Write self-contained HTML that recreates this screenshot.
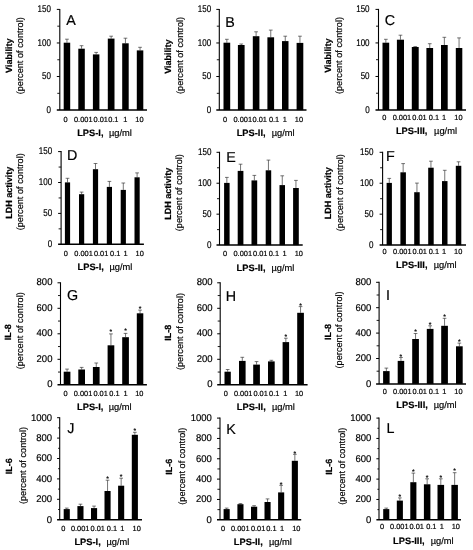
<!DOCTYPE html>
<html lang="en">
<head>
<meta charset="utf-8">
<title>LPS viability, LDH, IL-8 and IL-6 bar charts</title>
<style>
html,body{margin:0;padding:0;background:#fff;}
body{width:473px;height:550px;overflow:hidden;}
svg{display:block;}
svg text{font-family:"Liberation Sans", sans-serif;fill:#000;text-rendering:geometricPrecision;stroke:#000;stroke-width:0.18px;}
</style>
</head>
<body>
<svg width="473" height="550" viewBox="0 0 473 550">
<rect x="0" y="0" width="473" height="550" fill="#fff"/>
<line x1="59.8" y1="8.9" x2="59.8" y2="110.1" stroke="#000" stroke-width="1.1"/>
<line x1="56.8" y1="110.1" x2="147" y2="110.1" stroke="#000" stroke-width="1.5"/>
<text transform="translate(50.9,112.7) scale(0.82,1)" font-size="9.8" text-anchor="end">0</text>
<line x1="57.3" y1="93.32" x2="59.8" y2="93.32" stroke="#000" stroke-width="0.9"/>
<line x1="56.8" y1="76.53" x2="59.8" y2="76.53" stroke="#000" stroke-width="1.0"/>
<text transform="translate(50.9,79.13) scale(0.82,1)" font-size="9.8" text-anchor="end">50</text>
<line x1="57.3" y1="59.75" x2="59.8" y2="59.75" stroke="#000" stroke-width="0.9"/>
<line x1="56.8" y1="42.97" x2="59.8" y2="42.97" stroke="#000" stroke-width="1.0"/>
<text transform="translate(50.9,45.57) scale(0.82,1)" font-size="9.8" text-anchor="end">100</text>
<line x1="57.3" y1="26.18" x2="59.8" y2="26.18" stroke="#000" stroke-width="0.9"/>
<line x1="56.8" y1="9.4" x2="59.8" y2="9.4" stroke="#000" stroke-width="1.0"/>
<text transform="translate(50.9,12) scale(0.82,1)" font-size="9.8" text-anchor="end">150</text>
<line x1="66.95" y1="42.7" x2="66.95" y2="39.2" stroke="#3a3a3a" stroke-width="0.7"/>
<line x1="65.1" y1="39.2" x2="68.8" y2="39.2" stroke="#3a3a3a" stroke-width="0.7"/>
<rect x="63.7" y="42.7" width="6.5" height="67.4" fill="#000"/>
<line x1="81.55" y1="48.7" x2="81.55" y2="45.7" stroke="#3a3a3a" stroke-width="0.7"/>
<line x1="79.7" y1="45.7" x2="83.4" y2="45.7" stroke="#3a3a3a" stroke-width="0.7"/>
<rect x="78.3" y="48.7" width="6.5" height="61.4" fill="#000"/>
<line x1="96.15" y1="54.4" x2="96.15" y2="52.4" stroke="#3a3a3a" stroke-width="0.7"/>
<line x1="94.3" y1="52.4" x2="98" y2="52.4" stroke="#3a3a3a" stroke-width="0.7"/>
<rect x="92.9" y="54.4" width="6.5" height="55.7" fill="#000"/>
<line x1="111.15" y1="38.6" x2="111.15" y2="36.2" stroke="#3a3a3a" stroke-width="0.7"/>
<line x1="109.3" y1="36.2" x2="113" y2="36.2" stroke="#3a3a3a" stroke-width="0.7"/>
<rect x="107.8" y="38.6" width="6.7" height="71.5" fill="#000"/>
<line x1="125.45" y1="43.3" x2="125.45" y2="38.2" stroke="#3a3a3a" stroke-width="0.7"/>
<line x1="123.6" y1="38.2" x2="127.3" y2="38.2" stroke="#3a3a3a" stroke-width="0.7"/>
<rect x="122.2" y="43.3" width="6.5" height="66.8" fill="#000"/>
<line x1="140.05" y1="50.4" x2="140.05" y2="47.3" stroke="#3a3a3a" stroke-width="0.7"/>
<line x1="138.2" y1="47.3" x2="141.9" y2="47.3" stroke="#3a3a3a" stroke-width="0.7"/>
<rect x="136.8" y="50.4" width="6.5" height="59.7" fill="#000"/>
<text x="65.6" y="121.8" font-size="7.4" text-anchor="middle">0</text>
<text x="83.25" y="121.8" font-size="7.4" text-anchor="middle">0.001</text>
<text x="100.8" y="121.8" font-size="7.4" text-anchor="middle">0.01</text>
<text x="113.3" y="121.8" font-size="7.4" text-anchor="middle">0.1</text>
<text x="125.2" y="121.8" font-size="7.4" text-anchor="middle">1</text>
<text x="139.45" y="121.8" font-size="7.4" text-anchor="middle">10</text>
<text x="77.2" y="136" font-size="9.3" font-weight="bold">LPS-I,</text>
<text x="109" y="136" font-size="9.3">µg/ml</text>
<text x="66.2" y="24.9" font-size="14.3" stroke="none">A</text>
<text transform="translate(12,55.75) rotate(-90)" font-size="9.0" font-weight="bold" text-anchor="middle">Viability</text>
<text transform="translate(23.3,55.75) rotate(-90)" font-size="9.2" text-anchor="middle">(percent of control)</text>
<line x1="219.3" y1="8.9" x2="219.3" y2="110.1" stroke="#000" stroke-width="1.1"/>
<line x1="216.3" y1="110.1" x2="306.5" y2="110.1" stroke="#000" stroke-width="1.5"/>
<text transform="translate(211.2,112.7) scale(0.82,1)" font-size="9.8" text-anchor="end">0</text>
<line x1="216.8" y1="93.32" x2="219.3" y2="93.32" stroke="#000" stroke-width="0.9"/>
<line x1="216.3" y1="76.53" x2="219.3" y2="76.53" stroke="#000" stroke-width="1.0"/>
<text transform="translate(211.2,79.13) scale(0.82,1)" font-size="9.8" text-anchor="end">50</text>
<line x1="216.8" y1="59.75" x2="219.3" y2="59.75" stroke="#000" stroke-width="0.9"/>
<line x1="216.3" y1="42.97" x2="219.3" y2="42.97" stroke="#000" stroke-width="1.0"/>
<text transform="translate(211.2,45.57) scale(0.82,1)" font-size="9.8" text-anchor="end">100</text>
<line x1="216.8" y1="26.18" x2="219.3" y2="26.18" stroke="#000" stroke-width="0.9"/>
<line x1="216.3" y1="9.4" x2="219.3" y2="9.4" stroke="#000" stroke-width="1.0"/>
<text transform="translate(211.2,12) scale(0.82,1)" font-size="9.8" text-anchor="end">150</text>
<line x1="226.85" y1="42.7" x2="226.85" y2="39.3" stroke="#3a3a3a" stroke-width="0.7"/>
<line x1="225" y1="39.3" x2="228.7" y2="39.3" stroke="#3a3a3a" stroke-width="0.7"/>
<rect x="223.5" y="42.7" width="6.7" height="67.4" fill="#000"/>
<line x1="241.25" y1="45" x2="241.25" y2="44" stroke="#3a3a3a" stroke-width="0.7"/>
<line x1="239.4" y1="44" x2="243.1" y2="44" stroke="#3a3a3a" stroke-width="0.7"/>
<rect x="237.9" y="45" width="6.7" height="65.1" fill="#000"/>
<line x1="256.1" y1="36.2" x2="256.1" y2="31.8" stroke="#3a3a3a" stroke-width="0.7"/>
<line x1="254.25" y1="31.8" x2="257.95" y2="31.8" stroke="#3a3a3a" stroke-width="0.7"/>
<rect x="252.8" y="36.2" width="6.6" height="73.9" fill="#000"/>
<line x1="270.75" y1="37.3" x2="270.75" y2="30.1" stroke="#3a3a3a" stroke-width="0.7"/>
<line x1="268.9" y1="30.1" x2="272.6" y2="30.1" stroke="#3a3a3a" stroke-width="0.7"/>
<rect x="267.4" y="37.3" width="6.7" height="72.8" fill="#000"/>
<line x1="285.25" y1="41.1" x2="285.25" y2="36.2" stroke="#3a3a3a" stroke-width="0.7"/>
<line x1="283.4" y1="36.2" x2="287.1" y2="36.2" stroke="#3a3a3a" stroke-width="0.7"/>
<rect x="282" y="41.1" width="6.5" height="69" fill="#000"/>
<line x1="299.95" y1="42.9" x2="299.95" y2="36.2" stroke="#3a3a3a" stroke-width="0.7"/>
<line x1="298.1" y1="36.2" x2="301.8" y2="36.2" stroke="#3a3a3a" stroke-width="0.7"/>
<rect x="296.6" y="42.9" width="6.7" height="67.2" fill="#000"/>
<text x="225.1" y="121.8" font-size="7.4" text-anchor="middle">0</text>
<text x="242.75" y="121.8" font-size="7.4" text-anchor="middle">0.001</text>
<text x="259.8" y="121.8" font-size="7.4" text-anchor="middle">0.01</text>
<text x="274.1" y="121.8" font-size="7.4" text-anchor="middle">0.1</text>
<text x="284.7" y="121.8" font-size="7.4" text-anchor="middle">1</text>
<text x="298.95" y="121.8" font-size="7.4" text-anchor="middle">10</text>
<text x="236.7" y="136" font-size="9.3" font-weight="bold">LPS-II,</text>
<text x="271.7" y="136" font-size="9.3">µg/ml</text>
<text x="225.2" y="26.8" font-size="14.3" stroke="none">B</text>
<text transform="translate(171,56.55) rotate(-90)" font-size="9.0" font-weight="bold" text-anchor="middle">Viability</text>
<text transform="translate(182.8,55.45) rotate(-90)" font-size="9.2" text-anchor="middle">(percent of control)</text>
<line x1="378.5" y1="8.9" x2="378.5" y2="110" stroke="#000" stroke-width="1.1"/>
<line x1="375.5" y1="110" x2="466" y2="110" stroke="#000" stroke-width="1.5"/>
<text transform="translate(369.6,112.6) scale(0.82,1)" font-size="9.8" text-anchor="end">0</text>
<line x1="376" y1="93.23" x2="378.5" y2="93.23" stroke="#000" stroke-width="0.9"/>
<line x1="375.5" y1="76.47" x2="378.5" y2="76.47" stroke="#000" stroke-width="1.0"/>
<text transform="translate(369.6,79.07) scale(0.82,1)" font-size="9.8" text-anchor="end">50</text>
<line x1="376" y1="59.7" x2="378.5" y2="59.7" stroke="#000" stroke-width="0.9"/>
<line x1="375.5" y1="42.93" x2="378.5" y2="42.93" stroke="#000" stroke-width="1.0"/>
<text transform="translate(369.6,45.53) scale(0.82,1)" font-size="9.8" text-anchor="end">100</text>
<line x1="376" y1="26.17" x2="378.5" y2="26.17" stroke="#000" stroke-width="0.9"/>
<line x1="375.5" y1="9.4" x2="378.5" y2="9.4" stroke="#000" stroke-width="1.0"/>
<text transform="translate(369.6,12) scale(0.82,1)" font-size="9.8" text-anchor="end">150</text>
<line x1="385.85" y1="42.7" x2="385.85" y2="39.3" stroke="#3a3a3a" stroke-width="0.7"/>
<line x1="384" y1="39.3" x2="387.7" y2="39.3" stroke="#3a3a3a" stroke-width="0.7"/>
<rect x="382.5" y="42.7" width="6.7" height="67.3" fill="#000"/>
<line x1="400.45" y1="39.7" x2="400.45" y2="35.2" stroke="#3a3a3a" stroke-width="0.7"/>
<line x1="398.6" y1="35.2" x2="402.3" y2="35.2" stroke="#3a3a3a" stroke-width="0.7"/>
<rect x="396.9" y="39.7" width="7.1" height="70.3" fill="#000"/>
<line x1="415.25" y1="47" x2="415.25" y2="46.6" stroke="#3a3a3a" stroke-width="0.7"/>
<line x1="413.4" y1="46.6" x2="417.1" y2="46.6" stroke="#3a3a3a" stroke-width="0.7"/>
<rect x="411.8" y="47" width="6.9" height="63" fill="#000"/>
<line x1="429.75" y1="48" x2="429.75" y2="43.7" stroke="#3a3a3a" stroke-width="0.7"/>
<line x1="427.9" y1="43.7" x2="431.6" y2="43.7" stroke="#3a3a3a" stroke-width="0.7"/>
<rect x="426.4" y="48" width="6.7" height="62" fill="#000"/>
<line x1="444.35" y1="45" x2="444.35" y2="37.3" stroke="#3a3a3a" stroke-width="0.7"/>
<line x1="442.5" y1="37.3" x2="446.2" y2="37.3" stroke="#3a3a3a" stroke-width="0.7"/>
<rect x="441" y="45" width="6.7" height="65" fill="#000"/>
<line x1="459.05" y1="48" x2="459.05" y2="37.9" stroke="#3a3a3a" stroke-width="0.7"/>
<line x1="457.2" y1="37.9" x2="460.9" y2="37.9" stroke="#3a3a3a" stroke-width="0.7"/>
<rect x="455.8" y="48" width="6.5" height="62" fill="#000"/>
<text x="384.3" y="120.3" font-size="7.4" text-anchor="middle">0</text>
<text x="401.95" y="120.3" font-size="7.4" text-anchor="middle">0.001</text>
<text x="419.5" y="120.3" font-size="7.4" text-anchor="middle">0.01</text>
<text x="434" y="120.3" font-size="7.4" text-anchor="middle">0.1</text>
<text x="444.1" y="120.3" font-size="7.4" text-anchor="middle">1</text>
<text x="458.4" y="120.3" font-size="7.4" text-anchor="middle">10</text>
<text x="395.9" y="134.2" font-size="9.3" font-weight="bold">LPS-III,</text>
<text x="434.1" y="134.2" font-size="9.3">µg/ml</text>
<text x="384.8" y="25.3" font-size="14.3" stroke="none">C</text>
<text transform="translate(330.7,55.7) rotate(-90)" font-size="9.0" font-weight="bold" text-anchor="middle">Viability</text>
<text transform="translate(342.4,55.5) rotate(-90)" font-size="9.2" text-anchor="middle">(percent of control)</text>
<line x1="61.1" y1="151.1" x2="61.1" y2="244.3" stroke="#000" stroke-width="1.1"/>
<line x1="58.1" y1="244.3" x2="143.9" y2="244.3" stroke="#000" stroke-width="1.5"/>
<text transform="translate(52.2,246.9) scale(0.82,1)" font-size="9.8" text-anchor="end">0</text>
<line x1="58.6" y1="228.85" x2="61.1" y2="228.85" stroke="#000" stroke-width="0.9"/>
<line x1="58.1" y1="213.4" x2="61.1" y2="213.4" stroke="#000" stroke-width="1.0"/>
<text transform="translate(52.2,216) scale(0.82,1)" font-size="9.8" text-anchor="end">50</text>
<line x1="58.6" y1="197.95" x2="61.1" y2="197.95" stroke="#000" stroke-width="0.9"/>
<line x1="58.1" y1="182.5" x2="61.1" y2="182.5" stroke="#000" stroke-width="1.0"/>
<text transform="translate(52.2,185.1) scale(0.82,1)" font-size="9.8" text-anchor="end">100</text>
<line x1="58.6" y1="167.05" x2="61.1" y2="167.05" stroke="#000" stroke-width="0.9"/>
<line x1="58.1" y1="151.6" x2="61.1" y2="151.6" stroke="#000" stroke-width="1.0"/>
<text transform="translate(52.2,154.2) scale(0.82,1)" font-size="9.8" text-anchor="end">150</text>
<line x1="67.5" y1="182.4" x2="67.5" y2="178.3" stroke="#3a3a3a" stroke-width="0.7"/>
<line x1="65.65" y1="178.3" x2="69.35" y2="178.3" stroke="#3a3a3a" stroke-width="0.7"/>
<rect x="64.9" y="182.4" width="5.2" height="61.9" fill="#000"/>
<line x1="81.6" y1="194.2" x2="81.6" y2="192.1" stroke="#3a3a3a" stroke-width="0.7"/>
<line x1="79.75" y1="192.1" x2="83.45" y2="192.1" stroke="#3a3a3a" stroke-width="0.7"/>
<rect x="79" y="194.2" width="5.2" height="50.1" fill="#000"/>
<line x1="95.5" y1="169.2" x2="95.5" y2="163.5" stroke="#3a3a3a" stroke-width="0.7"/>
<line x1="93.65" y1="163.5" x2="97.35" y2="163.5" stroke="#3a3a3a" stroke-width="0.7"/>
<rect x="92.9" y="169.2" width="5.2" height="75.1" fill="#000"/>
<line x1="109.4" y1="186.9" x2="109.4" y2="181.4" stroke="#3a3a3a" stroke-width="0.7"/>
<line x1="107.55" y1="181.4" x2="111.25" y2="181.4" stroke="#3a3a3a" stroke-width="0.7"/>
<rect x="106.8" y="186.9" width="5.2" height="57.4" fill="#000"/>
<line x1="123.3" y1="189.9" x2="123.3" y2="183" stroke="#3a3a3a" stroke-width="0.7"/>
<line x1="121.45" y1="183" x2="125.15" y2="183" stroke="#3a3a3a" stroke-width="0.7"/>
<rect x="120.7" y="189.9" width="5.2" height="54.4" fill="#000"/>
<line x1="137.1" y1="177.3" x2="137.1" y2="172.9" stroke="#3a3a3a" stroke-width="0.7"/>
<line x1="135.25" y1="172.9" x2="138.95" y2="172.9" stroke="#3a3a3a" stroke-width="0.7"/>
<rect x="134.5" y="177.3" width="5.2" height="67" fill="#000"/>
<text x="65.9" y="256" font-size="7.4" text-anchor="middle">0</text>
<text x="83.6" y="256" font-size="7.4" text-anchor="middle">0.001</text>
<text x="101.1" y="256" font-size="7.4" text-anchor="middle">0.01</text>
<text x="115.2" y="256" font-size="7.4" text-anchor="middle">0.1</text>
<text x="125.6" y="256" font-size="7.4" text-anchor="middle">1</text>
<text x="139.7" y="256" font-size="7.4" text-anchor="middle">10</text>
<text x="77.5" y="270.2" font-size="9.3" font-weight="bold">LPS-I,</text>
<text x="109.4" y="270.2" font-size="9.3">µg/ml</text>
<text x="67" y="160.1" font-size="14.3" stroke="none">D</text>
<text transform="translate(12,192.85) rotate(-90)" font-size="9.0" font-weight="bold" text-anchor="middle">LDH activity</text>
<text transform="translate(23.1,191.75) rotate(-90)" font-size="9.2" text-anchor="middle">(percent of control)</text>
<line x1="219.5" y1="151.8" x2="219.5" y2="245.1" stroke="#000" stroke-width="1.1"/>
<line x1="216.5" y1="245.1" x2="302.7" y2="245.1" stroke="#000" stroke-width="1.5"/>
<text transform="translate(211.5,247.7) scale(0.82,1)" font-size="9.8" text-anchor="end">0</text>
<line x1="217" y1="229.63" x2="219.5" y2="229.63" stroke="#000" stroke-width="0.9"/>
<line x1="216.5" y1="214.17" x2="219.5" y2="214.17" stroke="#000" stroke-width="1.0"/>
<text transform="translate(211.5,216.77) scale(0.82,1)" font-size="9.8" text-anchor="end">50</text>
<line x1="217" y1="198.7" x2="219.5" y2="198.7" stroke="#000" stroke-width="0.9"/>
<line x1="216.5" y1="183.23" x2="219.5" y2="183.23" stroke="#000" stroke-width="1.0"/>
<text transform="translate(211.5,185.83) scale(0.82,1)" font-size="9.8" text-anchor="end">100</text>
<line x1="217" y1="167.77" x2="219.5" y2="167.77" stroke="#000" stroke-width="0.9"/>
<line x1="216.5" y1="152.3" x2="219.5" y2="152.3" stroke="#000" stroke-width="1.0"/>
<text transform="translate(211.5,154.9) scale(0.82,1)" font-size="9.8" text-anchor="end">150</text>
<line x1="226.85" y1="182.9" x2="226.85" y2="177.4" stroke="#3a3a3a" stroke-width="0.7"/>
<line x1="225" y1="177.4" x2="228.7" y2="177.4" stroke="#3a3a3a" stroke-width="0.7"/>
<rect x="224.1" y="182.9" width="5.5" height="62.2" fill="#000"/>
<line x1="240.55" y1="170.9" x2="240.55" y2="164.2" stroke="#3a3a3a" stroke-width="0.7"/>
<line x1="238.7" y1="164.2" x2="242.4" y2="164.2" stroke="#3a3a3a" stroke-width="0.7"/>
<rect x="237.7" y="170.9" width="5.7" height="74.2" fill="#000"/>
<line x1="254.35" y1="180.4" x2="254.35" y2="175.4" stroke="#3a3a3a" stroke-width="0.7"/>
<line x1="252.5" y1="175.4" x2="256.2" y2="175.4" stroke="#3a3a3a" stroke-width="0.7"/>
<rect x="251.5" y="180.4" width="5.7" height="64.7" fill="#000"/>
<line x1="268.45" y1="170.3" x2="268.45" y2="160.1" stroke="#3a3a3a" stroke-width="0.7"/>
<line x1="266.6" y1="160.1" x2="270.3" y2="160.1" stroke="#3a3a3a" stroke-width="0.7"/>
<rect x="265.7" y="170.3" width="5.5" height="74.8" fill="#000"/>
<line x1="282.25" y1="185.1" x2="282.25" y2="175.8" stroke="#3a3a3a" stroke-width="0.7"/>
<line x1="280.4" y1="175.8" x2="284.1" y2="175.8" stroke="#3a3a3a" stroke-width="0.7"/>
<rect x="279.5" y="185.1" width="5.5" height="60" fill="#000"/>
<line x1="295.95" y1="188" x2="295.95" y2="180.4" stroke="#3a3a3a" stroke-width="0.7"/>
<line x1="294.1" y1="180.4" x2="297.8" y2="180.4" stroke="#3a3a3a" stroke-width="0.7"/>
<rect x="293.1" y="188" width="5.7" height="57.1" fill="#000"/>
<text x="225" y="256.4" font-size="7.4" text-anchor="middle">0</text>
<text x="242.75" y="256.4" font-size="7.4" text-anchor="middle">0.001</text>
<text x="260.3" y="256.4" font-size="7.4" text-anchor="middle">0.01</text>
<text x="273.9" y="256.4" font-size="7.4" text-anchor="middle">0.1</text>
<text x="284.6" y="256.4" font-size="7.4" text-anchor="middle">1</text>
<text x="298.85" y="256.4" font-size="7.4" text-anchor="middle">10</text>
<text x="236.6" y="271.1" font-size="9.3" font-weight="bold">LPS-II,</text>
<text x="271.5" y="271.1" font-size="9.3">µg/ml</text>
<text x="226.2" y="162.4" font-size="14.3" stroke="none">E</text>
<text transform="translate(171.4,193.7) rotate(-90)" font-size="9.0" font-weight="bold" text-anchor="middle">LDH activity</text>
<text transform="translate(182.3,192.7) rotate(-90)" font-size="9.2" text-anchor="middle">(percent of control)</text>
<line x1="382.6" y1="151.8" x2="382.6" y2="245.1" stroke="#000" stroke-width="1.1"/>
<line x1="379.6" y1="245.1" x2="466" y2="245.1" stroke="#000" stroke-width="1.5"/>
<text transform="translate(373.5,247.7) scale(0.82,1)" font-size="9.8" text-anchor="end">0</text>
<line x1="380.1" y1="229.63" x2="382.6" y2="229.63" stroke="#000" stroke-width="0.9"/>
<line x1="379.6" y1="214.17" x2="382.6" y2="214.17" stroke="#000" stroke-width="1.0"/>
<text transform="translate(373.5,216.77) scale(0.82,1)" font-size="9.8" text-anchor="end">50</text>
<line x1="380.1" y1="198.7" x2="382.6" y2="198.7" stroke="#000" stroke-width="0.9"/>
<line x1="379.6" y1="183.23" x2="382.6" y2="183.23" stroke="#000" stroke-width="1.0"/>
<text transform="translate(373.5,185.83) scale(0.82,1)" font-size="9.8" text-anchor="end">100</text>
<line x1="380.1" y1="167.77" x2="382.6" y2="167.77" stroke="#000" stroke-width="0.9"/>
<line x1="379.6" y1="152.3" x2="382.6" y2="152.3" stroke="#000" stroke-width="1.0"/>
<text transform="translate(373.5,154.9) scale(0.82,1)" font-size="9.8" text-anchor="end">150</text>
<line x1="389.25" y1="182.9" x2="389.25" y2="178.4" stroke="#3a3a3a" stroke-width="0.7"/>
<line x1="387.4" y1="178.4" x2="391.1" y2="178.4" stroke="#3a3a3a" stroke-width="0.7"/>
<rect x="386.6" y="182.9" width="5.3" height="62.2" fill="#000"/>
<line x1="403.15" y1="172.3" x2="403.15" y2="163.6" stroke="#3a3a3a" stroke-width="0.7"/>
<line x1="401.3" y1="163.6" x2="405" y2="163.6" stroke="#3a3a3a" stroke-width="0.7"/>
<rect x="400.4" y="172.3" width="5.5" height="72.8" fill="#000"/>
<line x1="416.95" y1="192.2" x2="416.95" y2="183.1" stroke="#3a3a3a" stroke-width="0.7"/>
<line x1="415.1" y1="183.1" x2="418.8" y2="183.1" stroke="#3a3a3a" stroke-width="0.7"/>
<rect x="414.2" y="192.2" width="5.5" height="52.9" fill="#000"/>
<line x1="430.95" y1="167.7" x2="430.95" y2="161.2" stroke="#3a3a3a" stroke-width="0.7"/>
<line x1="429.1" y1="161.2" x2="432.8" y2="161.2" stroke="#3a3a3a" stroke-width="0.7"/>
<rect x="428.2" y="167.7" width="5.5" height="77.4" fill="#000"/>
<line x1="444.75" y1="181.1" x2="444.75" y2="170.3" stroke="#3a3a3a" stroke-width="0.7"/>
<line x1="442.9" y1="170.3" x2="446.6" y2="170.3" stroke="#3a3a3a" stroke-width="0.7"/>
<rect x="442" y="181.1" width="5.5" height="64" fill="#000"/>
<line x1="458.55" y1="165.8" x2="458.55" y2="161.8" stroke="#3a3a3a" stroke-width="0.7"/>
<line x1="456.7" y1="161.8" x2="460.4" y2="161.8" stroke="#3a3a3a" stroke-width="0.7"/>
<rect x="455.8" y="165.8" width="5.5" height="79.3" fill="#000"/>
<text x="384.5" y="253.9" font-size="7.4" text-anchor="middle">0</text>
<text x="402.35" y="253.9" font-size="7.4" text-anchor="middle">0.001</text>
<text x="419.8" y="253.9" font-size="7.4" text-anchor="middle">0.01</text>
<text x="433.9" y="253.9" font-size="7.4" text-anchor="middle">0.1</text>
<text x="444.1" y="253.9" font-size="7.4" text-anchor="middle">1</text>
<text x="458.15" y="253.9" font-size="7.4" text-anchor="middle">10</text>
<text x="396" y="268" font-size="9.3" font-weight="bold">LPS-III,</text>
<text x="433.7" y="268" font-size="9.3">µg/ml</text>
<text x="386" y="160.6" font-size="14.3" stroke="none">F</text>
<text transform="translate(331,193.25) rotate(-90)" font-size="9.0" font-weight="bold" text-anchor="middle">LDH activity</text>
<text transform="translate(342.7,192.65) rotate(-90)" font-size="9.2" text-anchor="middle">(percent of control)</text>
<line x1="60.5" y1="282.3" x2="60.5" y2="384.8" stroke="#000" stroke-width="1.1"/>
<line x1="57.5" y1="384.8" x2="146.9" y2="384.8" stroke="#000" stroke-width="1.5"/>
<text transform="translate(52.45,387.3) scale(0.97,1)" font-size="9.8" text-anchor="end">0</text>
<line x1="58" y1="372.05" x2="60.5" y2="372.05" stroke="#000" stroke-width="0.9"/>
<line x1="57.5" y1="359.3" x2="60.5" y2="359.3" stroke="#000" stroke-width="1.0"/>
<text transform="translate(52.45,361.8) scale(0.97,1)" font-size="9.8" text-anchor="end">200</text>
<line x1="58" y1="346.55" x2="60.5" y2="346.55" stroke="#000" stroke-width="0.9"/>
<line x1="57.5" y1="333.8" x2="60.5" y2="333.8" stroke="#000" stroke-width="1.0"/>
<text transform="translate(52.45,336.3) scale(0.97,1)" font-size="9.8" text-anchor="end">400</text>
<line x1="58" y1="321.05" x2="60.5" y2="321.05" stroke="#000" stroke-width="0.9"/>
<line x1="57.5" y1="308.3" x2="60.5" y2="308.3" stroke="#000" stroke-width="1.0"/>
<text transform="translate(52.45,310.8) scale(0.97,1)" font-size="9.8" text-anchor="end">600</text>
<line x1="58" y1="295.55" x2="60.5" y2="295.55" stroke="#000" stroke-width="0.9"/>
<line x1="57.5" y1="282.8" x2="60.5" y2="282.8" stroke="#000" stroke-width="1.0"/>
<text transform="translate(52.45,285.3) scale(0.97,1)" font-size="9.8" text-anchor="end">800</text>
<line x1="67.05" y1="371.7" x2="67.05" y2="369.1" stroke="#3a3a3a" stroke-width="0.7"/>
<line x1="65.2" y1="369.1" x2="68.9" y2="369.1" stroke="#3a3a3a" stroke-width="0.7"/>
<rect x="63.7" y="371.7" width="6.7" height="13.1" fill="#000"/>
<line x1="81.65" y1="369.5" x2="81.65" y2="367.4" stroke="#3a3a3a" stroke-width="0.7"/>
<line x1="79.8" y1="367.4" x2="83.5" y2="367.4" stroke="#3a3a3a" stroke-width="0.7"/>
<rect x="78.3" y="369.5" width="6.7" height="15.3" fill="#000"/>
<line x1="96.25" y1="367" x2="96.25" y2="363" stroke="#3a3a3a" stroke-width="0.7"/>
<line x1="94.4" y1="363" x2="98.1" y2="363" stroke="#3a3a3a" stroke-width="0.7"/>
<rect x="92.9" y="367" width="6.7" height="17.8" fill="#000"/>
<line x1="110.95" y1="345.3" x2="110.95" y2="333.9" stroke="#3a3a3a" stroke-width="0.7"/>
<line x1="109.1" y1="333.9" x2="112.8" y2="333.9" stroke="#3a3a3a" stroke-width="0.7"/>
<rect x="107.6" y="345.3" width="6.7" height="39.5" fill="#000"/>
<text x="110.95" y="334" font-size="6.8" text-anchor="middle">*</text>
<line x1="125.55" y1="337.2" x2="125.55" y2="333.4" stroke="#3a3a3a" stroke-width="0.7"/>
<line x1="123.7" y1="333.4" x2="127.4" y2="333.4" stroke="#3a3a3a" stroke-width="0.7"/>
<rect x="122.2" y="337.2" width="6.7" height="47.6" fill="#000"/>
<text x="125.55" y="333.4" font-size="6.8" text-anchor="middle">*</text>
<line x1="140.05" y1="313.3" x2="140.05" y2="310.1" stroke="#3a3a3a" stroke-width="0.7"/>
<line x1="138.2" y1="310.1" x2="141.9" y2="310.1" stroke="#3a3a3a" stroke-width="0.7"/>
<rect x="136.8" y="313.3" width="6.5" height="71.5" fill="#000"/>
<text x="140.05" y="310.7" font-size="6.8" text-anchor="middle">*</text>
<text x="65.6" y="395.9" font-size="7.4" text-anchor="middle">0</text>
<text x="83" y="395.9" font-size="7.4" text-anchor="middle">0.001</text>
<text x="100.6" y="395.9" font-size="7.4" text-anchor="middle">0.01</text>
<text x="114.5" y="395.9" font-size="7.4" text-anchor="middle">0.1</text>
<text x="125.6" y="395.9" font-size="7.4" text-anchor="middle">1</text>
<text x="139.35" y="395.9" font-size="7.4" text-anchor="middle">10</text>
<text x="77" y="409.6" font-size="9.3" font-weight="bold">LPS-I,</text>
<text x="108.7" y="409.6" font-size="9.3">µg/ml</text>
<text x="67" y="299.5" font-size="14.3" stroke="none">G</text>
<text transform="translate(11.4,332.3) rotate(-90)" font-size="9.0" font-weight="bold" text-anchor="middle">IL-8</text>
<text transform="translate(22.8,330.8) rotate(-90)" font-size="9.2" text-anchor="middle">(percent of control)</text>
<line x1="220.2" y1="282.3" x2="220.2" y2="384.8" stroke="#000" stroke-width="1.1"/>
<line x1="217.2" y1="384.8" x2="307.6" y2="384.8" stroke="#000" stroke-width="1.5"/>
<text transform="translate(212.5,387.3) scale(0.97,1)" font-size="9.8" text-anchor="end">0</text>
<line x1="217.7" y1="372.05" x2="220.2" y2="372.05" stroke="#000" stroke-width="0.9"/>
<line x1="217.2" y1="359.3" x2="220.2" y2="359.3" stroke="#000" stroke-width="1.0"/>
<text transform="translate(212.5,361.8) scale(0.97,1)" font-size="9.8" text-anchor="end">200</text>
<line x1="217.7" y1="346.55" x2="220.2" y2="346.55" stroke="#000" stroke-width="0.9"/>
<line x1="217.2" y1="333.8" x2="220.2" y2="333.8" stroke="#000" stroke-width="1.0"/>
<text transform="translate(212.5,336.3) scale(0.97,1)" font-size="9.8" text-anchor="end">400</text>
<line x1="217.7" y1="321.05" x2="220.2" y2="321.05" stroke="#000" stroke-width="0.9"/>
<line x1="217.2" y1="308.3" x2="220.2" y2="308.3" stroke="#000" stroke-width="1.0"/>
<text transform="translate(212.5,310.8) scale(0.97,1)" font-size="9.8" text-anchor="end">600</text>
<line x1="217.7" y1="295.55" x2="220.2" y2="295.55" stroke="#000" stroke-width="0.9"/>
<line x1="217.2" y1="282.8" x2="220.2" y2="282.8" stroke="#000" stroke-width="1.0"/>
<text transform="translate(212.5,285.3) scale(0.97,1)" font-size="9.8" text-anchor="end">800</text>
<line x1="227.65" y1="371.7" x2="227.65" y2="369.5" stroke="#3a3a3a" stroke-width="0.7"/>
<line x1="225.8" y1="369.5" x2="229.5" y2="369.5" stroke="#3a3a3a" stroke-width="0.7"/>
<rect x="224.5" y="371.7" width="6.3" height="13.1" fill="#000"/>
<line x1="242.3" y1="360.9" x2="242.3" y2="357.3" stroke="#3a3a3a" stroke-width="0.7"/>
<line x1="240.45" y1="357.3" x2="244.15" y2="357.3" stroke="#3a3a3a" stroke-width="0.7"/>
<rect x="239" y="360.9" width="6.6" height="23.9" fill="#000"/>
<line x1="256.55" y1="364.6" x2="256.55" y2="361.6" stroke="#3a3a3a" stroke-width="0.7"/>
<line x1="254.7" y1="361.6" x2="258.4" y2="361.6" stroke="#3a3a3a" stroke-width="0.7"/>
<rect x="253.2" y="364.6" width="6.7" height="20.2" fill="#000"/>
<line x1="271.35" y1="361.4" x2="271.35" y2="360.3" stroke="#3a3a3a" stroke-width="0.7"/>
<line x1="269.5" y1="360.3" x2="273.2" y2="360.3" stroke="#3a3a3a" stroke-width="0.7"/>
<rect x="268" y="361.4" width="6.7" height="23.4" fill="#000"/>
<line x1="285.85" y1="342.1" x2="285.85" y2="338.2" stroke="#3a3a3a" stroke-width="0.7"/>
<line x1="284" y1="338.2" x2="287.7" y2="338.2" stroke="#3a3a3a" stroke-width="0.7"/>
<rect x="282.6" y="342.1" width="6.5" height="42.7" fill="#000"/>
<text x="285.85" y="338.9" font-size="6.8" text-anchor="middle">*</text>
<line x1="300.55" y1="312.8" x2="300.55" y2="306.6" stroke="#3a3a3a" stroke-width="0.7"/>
<line x1="298.7" y1="306.6" x2="302.4" y2="306.6" stroke="#3a3a3a" stroke-width="0.7"/>
<rect x="297.2" y="312.8" width="6.7" height="72" fill="#000"/>
<text x="300.55" y="307.6" font-size="6.8" text-anchor="middle">*</text>
<text x="225.7" y="395.6" font-size="7.4" text-anchor="middle">0</text>
<text x="243.2" y="395.6" font-size="7.4" text-anchor="middle">0.001</text>
<text x="260.6" y="395.6" font-size="7.4" text-anchor="middle">0.01</text>
<text x="274.2" y="395.6" font-size="7.4" text-anchor="middle">0.1</text>
<text x="285.2" y="395.6" font-size="7.4" text-anchor="middle">1</text>
<text x="299.1" y="395.6" font-size="7.4" text-anchor="middle">10</text>
<text x="236.8" y="410.1" font-size="9.3" font-weight="bold">LPS-II,</text>
<text x="272" y="410.1" font-size="9.3">µg/ml</text>
<text x="225.8" y="301.4" font-size="14.3" stroke="none">H</text>
<text transform="translate(171.2,332.8) rotate(-90)" font-size="9.0" font-weight="bold" text-anchor="middle">IL-8</text>
<text transform="translate(182.6,331.5) rotate(-90)" font-size="9.2" text-anchor="middle">(percent of control)</text>
<line x1="379.1" y1="281.8" x2="379.1" y2="383.9" stroke="#000" stroke-width="1.1"/>
<line x1="376.1" y1="383.9" x2="466" y2="383.9" stroke="#000" stroke-width="1.5"/>
<text transform="translate(371.4,386.8) scale(0.97,1)" font-size="9.8" text-anchor="end">0</text>
<line x1="376.6" y1="371.2" x2="379.1" y2="371.2" stroke="#000" stroke-width="0.9"/>
<line x1="376.1" y1="358.5" x2="379.1" y2="358.5" stroke="#000" stroke-width="1.0"/>
<text transform="translate(371.4,361.4) scale(0.97,1)" font-size="9.8" text-anchor="end">200</text>
<line x1="376.6" y1="345.8" x2="379.1" y2="345.8" stroke="#000" stroke-width="0.9"/>
<line x1="376.1" y1="333.1" x2="379.1" y2="333.1" stroke="#000" stroke-width="1.0"/>
<text transform="translate(371.4,336) scale(0.97,1)" font-size="9.8" text-anchor="end">400</text>
<line x1="376.6" y1="320.4" x2="379.1" y2="320.4" stroke="#000" stroke-width="0.9"/>
<line x1="376.1" y1="307.7" x2="379.1" y2="307.7" stroke="#000" stroke-width="1.0"/>
<text transform="translate(371.4,310.6) scale(0.97,1)" font-size="9.8" text-anchor="end">600</text>
<line x1="376.6" y1="295" x2="379.1" y2="295" stroke="#000" stroke-width="0.9"/>
<line x1="376.1" y1="282.3" x2="379.1" y2="282.3" stroke="#000" stroke-width="1.0"/>
<text transform="translate(371.4,285.2) scale(0.97,1)" font-size="9.8" text-anchor="end">800</text>
<line x1="386.35" y1="371.1" x2="386.35" y2="368.1" stroke="#3a3a3a" stroke-width="0.7"/>
<line x1="384.5" y1="368.1" x2="388.2" y2="368.1" stroke="#3a3a3a" stroke-width="0.7"/>
<rect x="383.1" y="371.1" width="6.5" height="12.8" fill="#000"/>
<line x1="400.95" y1="360.9" x2="400.95" y2="357.5" stroke="#3a3a3a" stroke-width="0.7"/>
<line x1="399.1" y1="357.5" x2="402.8" y2="357.5" stroke="#3a3a3a" stroke-width="0.7"/>
<rect x="397.7" y="360.9" width="6.5" height="23" fill="#000"/>
<text x="400.95" y="358.8" font-size="6.8" text-anchor="middle">*</text>
<line x1="415.55" y1="339" x2="415.55" y2="333.5" stroke="#3a3a3a" stroke-width="0.7"/>
<line x1="413.7" y1="333.5" x2="417.4" y2="333.5" stroke="#3a3a3a" stroke-width="0.7"/>
<rect x="412.2" y="339" width="6.7" height="44.9" fill="#000"/>
<text x="415.55" y="334" font-size="6.8" text-anchor="middle">*</text>
<line x1="430.15" y1="328.9" x2="430.15" y2="325.8" stroke="#3a3a3a" stroke-width="0.7"/>
<line x1="428.3" y1="325.8" x2="432" y2="325.8" stroke="#3a3a3a" stroke-width="0.7"/>
<rect x="426.8" y="328.9" width="6.7" height="55" fill="#000"/>
<text x="430.15" y="326.7" font-size="6.8" text-anchor="middle">*</text>
<line x1="444.55" y1="325.8" x2="444.55" y2="318.3" stroke="#3a3a3a" stroke-width="0.7"/>
<line x1="442.7" y1="318.3" x2="446.4" y2="318.3" stroke="#3a3a3a" stroke-width="0.7"/>
<rect x="441.2" y="325.8" width="6.7" height="58.1" fill="#000"/>
<text x="444.55" y="319.2" font-size="6.8" text-anchor="middle">*</text>
<line x1="459.35" y1="346.3" x2="459.35" y2="343.1" stroke="#3a3a3a" stroke-width="0.7"/>
<line x1="457.5" y1="343.1" x2="461.2" y2="343.1" stroke="#3a3a3a" stroke-width="0.7"/>
<rect x="456" y="346.3" width="6.7" height="37.6" fill="#000"/>
<text x="459.35" y="343.9" font-size="6.8" text-anchor="middle">*</text>
<text x="384.7" y="393.7" font-size="7.4" text-anchor="middle">0</text>
<text x="402.35" y="393.7" font-size="7.4" text-anchor="middle">0.001</text>
<text x="419.8" y="393.7" font-size="7.4" text-anchor="middle">0.01</text>
<text x="434" y="393.7" font-size="7.4" text-anchor="middle">0.1</text>
<text x="444.3" y="393.7" font-size="7.4" text-anchor="middle">1</text>
<text x="458.4" y="393.7" font-size="7.4" text-anchor="middle">10</text>
<text x="396.3" y="407.7" font-size="9.3" font-weight="bold">LPS-III,</text>
<text x="433.7" y="407.7" font-size="9.3">µg/ml</text>
<text x="386" y="299.8" font-size="14.3" stroke="none">I</text>
<text transform="translate(331.3,332.1) rotate(-90)" font-size="9.0" font-weight="bold" text-anchor="middle">IL-8</text>
<text transform="translate(342.1,329.9) rotate(-90)" font-size="9.2" text-anchor="middle">(percent of control)</text>
<line x1="59.7" y1="417.2" x2="59.7" y2="519.7" stroke="#000" stroke-width="1.1"/>
<line x1="57.1" y1="519.7" x2="142" y2="519.7" stroke="#000" stroke-width="1.5"/>
<text transform="translate(52.1,522.6) scale(0.97,1)" font-size="9.8" text-anchor="end">0</text>
<line x1="58.1" y1="509.5" x2="59.7" y2="509.5" stroke="#000" stroke-width="0.9"/>
<line x1="57.1" y1="499.3" x2="59.7" y2="499.3" stroke="#000" stroke-width="1.0"/>
<text transform="translate(52.1,502.2) scale(0.97,1)" font-size="9.8" text-anchor="end">200</text>
<line x1="58.1" y1="489.1" x2="59.7" y2="489.1" stroke="#000" stroke-width="0.9"/>
<line x1="57.1" y1="478.9" x2="59.7" y2="478.9" stroke="#000" stroke-width="1.0"/>
<text transform="translate(52.1,481.8) scale(0.97,1)" font-size="9.8" text-anchor="end">400</text>
<line x1="58.1" y1="468.7" x2="59.7" y2="468.7" stroke="#000" stroke-width="0.9"/>
<line x1="57.1" y1="458.5" x2="59.7" y2="458.5" stroke="#000" stroke-width="1.0"/>
<text transform="translate(52.1,461.4) scale(0.97,1)" font-size="9.8" text-anchor="end">600</text>
<line x1="58.1" y1="448.3" x2="59.7" y2="448.3" stroke="#000" stroke-width="0.9"/>
<line x1="57.1" y1="438.1" x2="59.7" y2="438.1" stroke="#000" stroke-width="1.0"/>
<text transform="translate(52.1,441) scale(0.97,1)" font-size="9.8" text-anchor="end">800</text>
<line x1="58.1" y1="427.9" x2="59.7" y2="427.9" stroke="#000" stroke-width="0.9"/>
<line x1="57.1" y1="417.7" x2="59.7" y2="417.7" stroke="#000" stroke-width="1.0"/>
<text transform="translate(52.1,420.6) scale(0.97,1)" font-size="9.8" text-anchor="end">1000</text>
<line x1="66.75" y1="509.1" x2="66.75" y2="508.1" stroke="#3a3a3a" stroke-width="0.7"/>
<line x1="64.9" y1="508.1" x2="68.6" y2="508.1" stroke="#3a3a3a" stroke-width="0.7"/>
<rect x="63.7" y="509.1" width="6.1" height="10.6" fill="#000"/>
<line x1="80.45" y1="506.1" x2="80.45" y2="504.2" stroke="#3a3a3a" stroke-width="0.7"/>
<line x1="78.6" y1="504.2" x2="82.3" y2="504.2" stroke="#3a3a3a" stroke-width="0.7"/>
<rect x="77.4" y="506.1" width="6.1" height="13.6" fill="#000"/>
<line x1="94.05" y1="508.1" x2="94.05" y2="506.1" stroke="#3a3a3a" stroke-width="0.7"/>
<line x1="92.2" y1="506.1" x2="95.9" y2="506.1" stroke="#3a3a3a" stroke-width="0.7"/>
<rect x="91" y="508.1" width="6.1" height="11.6" fill="#000"/>
<line x1="107.55" y1="491" x2="107.55" y2="480.2" stroke="#3a3a3a" stroke-width="0.7"/>
<line x1="105.7" y1="480.2" x2="109.4" y2="480.2" stroke="#3a3a3a" stroke-width="0.7"/>
<rect x="104.5" y="491" width="6.1" height="28.7" fill="#000"/>
<text x="107.55" y="481" font-size="6.8" text-anchor="middle">*</text>
<line x1="121.15" y1="485.7" x2="121.15" y2="478.2" stroke="#3a3a3a" stroke-width="0.7"/>
<line x1="119.3" y1="478.2" x2="123" y2="478.2" stroke="#3a3a3a" stroke-width="0.7"/>
<rect x="118.1" y="485.7" width="6.1" height="34" fill="#000"/>
<text x="121.15" y="478.6" font-size="6.8" text-anchor="middle">*</text>
<line x1="134.85" y1="434.8" x2="134.85" y2="432.3" stroke="#3a3a3a" stroke-width="0.7"/>
<line x1="133" y1="432.3" x2="136.7" y2="432.3" stroke="#3a3a3a" stroke-width="0.7"/>
<rect x="131.8" y="434.8" width="6.1" height="84.9" fill="#000"/>
<text x="134.85" y="433.2" font-size="6.8" text-anchor="middle">*</text>
<text x="63.2" y="530.7" font-size="7.4" text-anchor="middle">0</text>
<text x="80.15" y="530.7" font-size="7.4" text-anchor="middle">0.001</text>
<text x="97.8" y="530.7" font-size="7.4" text-anchor="middle">0.01</text>
<text x="112" y="530.7" font-size="7.4" text-anchor="middle">0.1</text>
<text x="122.4" y="530.7" font-size="7.4" text-anchor="middle">1</text>
<text x="136.65" y="530.7" font-size="7.4" text-anchor="middle">10</text>
<text x="74.4" y="545.1" font-size="9.3" font-weight="bold">LPS-I,</text>
<text x="106.5" y="545.1" font-size="9.3">µg/ml</text>
<text x="67.2" y="432.7" font-size="14.3" stroke="none">J</text>
<text transform="translate(12.4,466.2) rotate(-90)" font-size="9.0" font-weight="bold" text-anchor="middle">IL-6</text>
<text transform="translate(25.5,465.5) rotate(-90)" font-size="9.2" text-anchor="middle">(percent of control)</text>
<line x1="220" y1="417.6" x2="220" y2="519.8" stroke="#000" stroke-width="1.1"/>
<line x1="217" y1="519.8" x2="301.2" y2="519.8" stroke="#000" stroke-width="1.5"/>
<text transform="translate(211.9,522.7) scale(0.97,1)" font-size="9.8" text-anchor="end">0</text>
<line x1="217.4" y1="509.63" x2="220" y2="509.63" stroke="#000" stroke-width="0.9"/>
<line x1="217" y1="499.46" x2="220" y2="499.46" stroke="#000" stroke-width="1.0"/>
<text transform="translate(211.9,502.36) scale(0.97,1)" font-size="9.8" text-anchor="end">200</text>
<line x1="217.4" y1="489.29" x2="220" y2="489.29" stroke="#000" stroke-width="0.9"/>
<line x1="217" y1="479.12" x2="220" y2="479.12" stroke="#000" stroke-width="1.0"/>
<text transform="translate(211.9,482.02) scale(0.97,1)" font-size="9.8" text-anchor="end">400</text>
<line x1="217.4" y1="468.95" x2="220" y2="468.95" stroke="#000" stroke-width="0.9"/>
<line x1="217" y1="458.78" x2="220" y2="458.78" stroke="#000" stroke-width="1.0"/>
<text transform="translate(211.9,461.68) scale(0.97,1)" font-size="9.8" text-anchor="end">600</text>
<line x1="217.4" y1="448.61" x2="220" y2="448.61" stroke="#000" stroke-width="0.9"/>
<line x1="217" y1="438.44" x2="220" y2="438.44" stroke="#000" stroke-width="1.0"/>
<text transform="translate(211.9,441.34) scale(0.97,1)" font-size="9.8" text-anchor="end">800</text>
<line x1="217.4" y1="428.27" x2="220" y2="428.27" stroke="#000" stroke-width="0.9"/>
<line x1="217" y1="418.1" x2="220" y2="418.1" stroke="#000" stroke-width="1.0"/>
<text transform="translate(211.9,421) scale(0.97,1)" font-size="9.8" text-anchor="end">1000</text>
<line x1="226.65" y1="509.1" x2="226.65" y2="508.1" stroke="#3a3a3a" stroke-width="0.7"/>
<line x1="224.8" y1="508.1" x2="228.5" y2="508.1" stroke="#3a3a3a" stroke-width="0.7"/>
<rect x="223.6" y="509.1" width="6.1" height="10.7" fill="#000"/>
<line x1="240.45" y1="504.2" x2="240.45" y2="503.6" stroke="#3a3a3a" stroke-width="0.7"/>
<line x1="238.6" y1="503.6" x2="242.3" y2="503.6" stroke="#3a3a3a" stroke-width="0.7"/>
<rect x="237.4" y="504.2" width="6.1" height="15.6" fill="#000"/>
<line x1="254.1" y1="506.7" x2="254.1" y2="505.7" stroke="#3a3a3a" stroke-width="0.7"/>
<line x1="252.25" y1="505.7" x2="255.95" y2="505.7" stroke="#3a3a3a" stroke-width="0.7"/>
<rect x="251" y="506.7" width="6.2" height="13.1" fill="#000"/>
<line x1="267.55" y1="502" x2="267.55" y2="498.9" stroke="#3a3a3a" stroke-width="0.7"/>
<line x1="265.7" y1="498.9" x2="269.4" y2="498.9" stroke="#3a3a3a" stroke-width="0.7"/>
<rect x="264.5" y="502" width="6.1" height="17.8" fill="#000"/>
<line x1="281.15" y1="492.4" x2="281.15" y2="485.3" stroke="#3a3a3a" stroke-width="0.7"/>
<line x1="279.3" y1="485.3" x2="283" y2="485.3" stroke="#3a3a3a" stroke-width="0.7"/>
<rect x="278.1" y="492.4" width="6.1" height="27.4" fill="#000"/>
<text x="281.15" y="486.7" font-size="6.8" text-anchor="middle">*</text>
<line x1="294.85" y1="460.8" x2="294.85" y2="454.3" stroke="#3a3a3a" stroke-width="0.7"/>
<line x1="293" y1="454.3" x2="296.7" y2="454.3" stroke="#3a3a3a" stroke-width="0.7"/>
<rect x="291.8" y="460.8" width="6.1" height="59" fill="#000"/>
<text x="294.85" y="455.6" font-size="6.8" text-anchor="middle">*</text>
<text x="223" y="530.8" font-size="7.4" text-anchor="middle">0</text>
<text x="240.25" y="530.8" font-size="7.4" text-anchor="middle">0.001</text>
<text x="258.1" y="530.8" font-size="7.4" text-anchor="middle">0.01</text>
<text x="271.4" y="530.8" font-size="7.4" text-anchor="middle">0.1</text>
<text x="282.1" y="530.8" font-size="7.4" text-anchor="middle">1</text>
<text x="296.25" y="530.8" font-size="7.4" text-anchor="middle">10</text>
<text x="233.8" y="545.2" font-size="9.3" font-weight="bold">LPS-II,</text>
<text x="269" y="545.2" font-size="9.3">µg/ml</text>
<text x="226.2" y="434.4" font-size="14.3" stroke="none">K</text>
<text transform="translate(171.8,466.75) rotate(-90)" font-size="9.0" font-weight="bold" text-anchor="middle">IL-6</text>
<text transform="translate(184.6,466.15) rotate(-90)" font-size="9.2" text-anchor="middle">(percent of control)</text>
<line x1="379" y1="417.6" x2="379" y2="519.8" stroke="#000" stroke-width="1.1"/>
<line x1="376.4" y1="519.8" x2="461" y2="519.8" stroke="#000" stroke-width="1.5"/>
<text transform="translate(371.3,522.7) scale(0.97,1)" font-size="9.8" text-anchor="end">0</text>
<line x1="377.4" y1="509.63" x2="379" y2="509.63" stroke="#000" stroke-width="0.9"/>
<line x1="376.4" y1="499.46" x2="379" y2="499.46" stroke="#000" stroke-width="1.0"/>
<text transform="translate(371.3,502.36) scale(0.97,1)" font-size="9.8" text-anchor="end">200</text>
<line x1="377.4" y1="489.29" x2="379" y2="489.29" stroke="#000" stroke-width="0.9"/>
<line x1="376.4" y1="479.12" x2="379" y2="479.12" stroke="#000" stroke-width="1.0"/>
<text transform="translate(371.3,482.02) scale(0.97,1)" font-size="9.8" text-anchor="end">400</text>
<line x1="377.4" y1="468.95" x2="379" y2="468.95" stroke="#000" stroke-width="0.9"/>
<line x1="376.4" y1="458.78" x2="379" y2="458.78" stroke="#000" stroke-width="1.0"/>
<text transform="translate(371.3,461.68) scale(0.97,1)" font-size="9.8" text-anchor="end">600</text>
<line x1="377.4" y1="448.61" x2="379" y2="448.61" stroke="#000" stroke-width="0.9"/>
<line x1="376.4" y1="438.44" x2="379" y2="438.44" stroke="#000" stroke-width="1.0"/>
<text transform="translate(371.3,441.34) scale(0.97,1)" font-size="9.8" text-anchor="end">800</text>
<line x1="377.4" y1="428.27" x2="379" y2="428.27" stroke="#000" stroke-width="0.9"/>
<line x1="376.4" y1="418.1" x2="379" y2="418.1" stroke="#000" stroke-width="1.0"/>
<text transform="translate(371.3,421) scale(0.97,1)" font-size="9.8" text-anchor="end">1000</text>
<line x1="386.25" y1="509.1" x2="386.25" y2="508.1" stroke="#3a3a3a" stroke-width="0.7"/>
<line x1="384.4" y1="508.1" x2="388.1" y2="508.1" stroke="#3a3a3a" stroke-width="0.7"/>
<rect x="383.2" y="509.1" width="6.1" height="10.7" fill="#000"/>
<line x1="399.85" y1="500.6" x2="399.85" y2="497.9" stroke="#3a3a3a" stroke-width="0.7"/>
<line x1="398" y1="497.9" x2="401.7" y2="497.9" stroke="#3a3a3a" stroke-width="0.7"/>
<rect x="396.8" y="500.6" width="6.1" height="19.2" fill="#000"/>
<text x="399.85" y="499.4" font-size="6.8" text-anchor="middle">*</text>
<line x1="413.35" y1="482.2" x2="413.35" y2="473.1" stroke="#3a3a3a" stroke-width="0.7"/>
<line x1="411.5" y1="473.1" x2="415.2" y2="473.1" stroke="#3a3a3a" stroke-width="0.7"/>
<rect x="410.3" y="482.2" width="6.1" height="37.6" fill="#000"/>
<text x="413.35" y="474.3" font-size="6.8" text-anchor="middle">*</text>
<line x1="427.15" y1="484.3" x2="427.15" y2="478.8" stroke="#3a3a3a" stroke-width="0.7"/>
<line x1="425.3" y1="478.8" x2="429" y2="478.8" stroke="#3a3a3a" stroke-width="0.7"/>
<rect x="423.9" y="484.3" width="6.5" height="35.5" fill="#000"/>
<text x="427.15" y="479.6" font-size="6.8" text-anchor="middle">*</text>
<line x1="440.8" y1="484.9" x2="440.8" y2="478.8" stroke="#3a3a3a" stroke-width="0.7"/>
<line x1="438.95" y1="478.8" x2="442.65" y2="478.8" stroke="#3a3a3a" stroke-width="0.7"/>
<rect x="437.5" y="484.9" width="6.6" height="34.9" fill="#000"/>
<text x="440.8" y="479.6" font-size="6.8" text-anchor="middle">*</text>
<line x1="454.65" y1="484.9" x2="454.65" y2="472.7" stroke="#3a3a3a" stroke-width="0.7"/>
<line x1="452.8" y1="472.7" x2="456.5" y2="472.7" stroke="#3a3a3a" stroke-width="0.7"/>
<rect x="451.4" y="484.9" width="6.5" height="34.9" fill="#000"/>
<text x="454.65" y="472.9" font-size="6.8" text-anchor="middle">*</text>
<text x="382" y="529.2" font-size="7.4" text-anchor="middle">0</text>
<text x="399.35" y="529.2" font-size="7.4" text-anchor="middle">0.001</text>
<text x="416.7" y="529.2" font-size="7.4" text-anchor="middle">0.01</text>
<text x="431.3" y="529.2" font-size="7.4" text-anchor="middle">0.1</text>
<text x="441.8" y="529.2" font-size="7.4" text-anchor="middle">1</text>
<text x="455.85" y="529.2" font-size="7.4" text-anchor="middle">10</text>
<text x="393.1" y="543.6" font-size="9.3" font-weight="bold">LPS-III,</text>
<text x="430.7" y="543.6" font-size="9.3">µg/ml</text>
<text x="386.6" y="432.7" font-size="14.3" stroke="none">L</text>
<text transform="translate(331.5,466.65) rotate(-90)" font-size="9.0" font-weight="bold" text-anchor="middle">IL-6</text>
<text transform="translate(345.1,466.15) rotate(-90)" font-size="9.2" text-anchor="middle">(percent of control)</text>
</svg>
</body>
</html>
